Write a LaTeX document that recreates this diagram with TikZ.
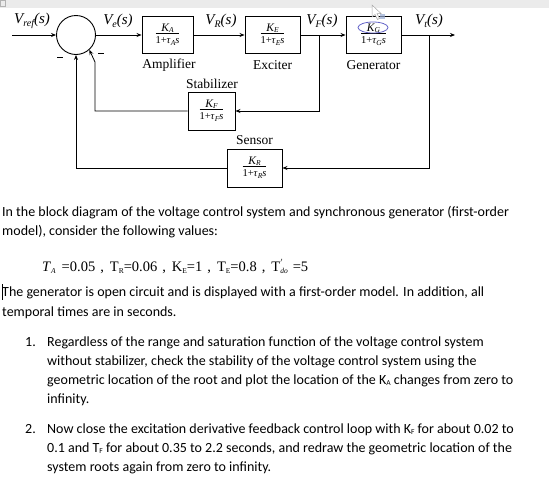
\documentclass[tikz,border=0pt]{standalone}
\usepackage{fontspec}
\setmainfont{Liberation Serif}
\newfontfamily\bodyfont{Carlito}
\usetikzlibrary{arrows.meta}
\newcommand\mysb[2]{\raisebox{-#2}{\fontsize{7.5}{7.5}\selectfont #1}}
\newcommand\vsb[1]{\raisebox{-2.5pt}{\fontsize{10}{10}\selectfont\itshape #1}}
\newcommand\fsb[1]{\raisebox{-1.5pt}{\fontsize{7.5}{7.5}\selectfont\itshape #1}}
\newcommand\tfrac[2]{{\fontsize{11.5}{11.5}\selectfont\itshape K\fsb{#1}}\\[-1.5pt]\hline
  \rule{0pt}{10pt}{\fontsize{10.5}{10.5}\selectfont 1+\textit{τ}\fsb{#2}\textit{s}}}
\newcommand\cma{\hspace{5pt},\hspace{6pt}}
\begin{document}
\begin{tikzpicture}[x=1pt,y=-1pt,
  blk/.style={draw,line width=0.9pt,minimum width=53pt,minimum height=37pt,inner sep=0pt,
     align=center},
  lbl/.style={font=\fontsize{13.5}{13.5}\selectfont,inner sep=0pt},
  sig/.style={font=\fontsize{15}{15}\selectfont\itshape,inner sep=0pt},
  wire/.style={line width=0.8pt},
  arr/.style={wire,-{Stealth[length=5pt,width=4pt]}},
  txt/.style={anchor=base west,inner sep=0pt,font=\bodyfont\fontsize{14}{14}\selectfont},
  frm/.style={anchor=base west,inner sep=0pt,font=\fontsize{14.5}{14.5}\selectfont}]
\useasboundingbox (0,0) rectangle (549,480);
\fill[gray!16] (0,0) rectangle (549,8);
\draw[gray!60,line width=0.5pt] (0.5,0.5) rectangle (5,6);
% blocks
\node[draw,circle,line width=0.9pt,minimum size=39pt,inner sep=0pt] (sum) at (76,35) {};
\node[blk,minimum width=51pt] (amp) at (167.5,35) {\begin{tabular}{@{}c@{}}\tfrac{A}{A}\end{tabular}};
\node[blk,minimum width=55pt] (exc) at (272.5,35) {\begin{tabular}{@{}c@{}}\tfrac{E}{E}\end{tabular}};
\node[blk,minimum width=55pt] (gen) at (373.5,35) {\begin{tabular}{@{}c@{}}\tfrac{G}{G}\end{tabular}};
\node[blk,minimum width=47pt,minimum height=38pt] (stab) at (211.5,111) {\begin{tabular}{@{}c@{}}\tfrac{F}{F}\end{tabular}};
\node[blk,minimum width=55pt,minimum height=38pt] (sens) at (254.5,168) {\begin{tabular}{@{}c@{}}\tfrac{R}{R}\end{tabular}};
\draw[color={rgb,255:red,100;green,100;blue,200},line width=0.8pt] (373,27.5) ellipse (15 and 5.5);
% cursor
\draw[gray!70,fill=white,line width=0.5pt] (372,5) -- (372,17) -- (375,14.5) -- (377.5,19.5) -- (379.5,18.5) -- (377,13.5) -- (381,13.5) -- cycle;
\fill[color={rgb,255:red,150;green,170;blue,210},opacity=0.7] (380,14) rectangle (385,19);
% labels
\node[lbl] at (169,65) {Amplifier};
\node[lbl] at (272.5,65) {Exciter};
\node[lbl] at (373.5,65) {Generator};
\node[lbl] at (212,84) {Stabilizer};
\node[lbl] at (254.5,140) {Sensor};
\node[sig] at (32,21) {V\vsb{ref}(s)};
\node[sig] at (118,21) {V\vsb{e}(s)};
\node[sig] at (221,21) {V\vsb{R}(s)};
\node[sig] at (322,21) {V\vsb{F}(s)};
\node[sig] at (429,21) {V\vsb{t}(s)};
% coordinates
\coordinate (in) at (12,35);
\coordinate (out) at (455,35);
\coordinate (bF) at (319,35);
\coordinate (bT) at (429,35);
\coordinate (s1) at (319,111);
\coordinate (s2) at (429,168);
\coordinate (s3) at (95,111);
\coordinate (s4) at (95,62);
\coordinate (s5) at (76,168);
% connectors
\draw[arr] (in) -- (sum.west);
\draw[arr] (sum.east) -- (amp.west);
\draw[arr] (amp.east) -- (exc.west);
\draw[arr] (exc.east) -- (gen.west);
\draw[arr] (gen.east) -- (out);
\draw[arr] (bF) -- (s1) -- (stab.east);
\draw[arr] (stab.west) -- (s3) -- (s4) -- (sum.-48);
\draw[arr] (bT) -- (s2) -- (sens.east);
\draw[arr] (sens.west) -- (s5) -- (sum.south);
\draw[wire] (57,57) -- (63,57);
\draw[wire] (98,53) -- (104,53);
% text
\node[txt] (t1) at (2,216) {In the block diagram of the voltage control system and synchronous generator (first-order};
\node[txt] (t2) at (2,235) {model), consider the following values:};
\node[frm] (f) at (42,271) {\textit{T}\mysb{\textit{A}}{2pt}\hspace{6pt}=0.05\cma T\mysb{R}{2pt}=0.06\cma K\mysb{E}{2pt}=1\cma T\mysb{E}{2pt}=0.8\cma T\rlap{\raisebox{6pt}{\fontsize{8}{8}\selectfont$'$}}\mysb{\textit{do}}{2pt}\hspace{5pt}=5};
\draw[line width=0.8pt] (2.5,284) -- (2.5,300);
\node[txt] (t3) at (2,296) {The generator is open circuit and is displayed with a first-order model. In addition, all};
\node[txt] (t4) at (2,316) {temporal times are in seconds.};
\node[txt] (n1) at (25,346) {1.};
\node[txt] (a1) at (47,346) {Regardless of the range and saturation function of the voltage control system};
\node[txt] (a2) at (47,365) {without stabilizer, check the stability of the voltage control system using the};
\node[txt] (a3) at (47,384) {geometric location of the root and plot the location of the K\mysb{A}{1.5pt} changes from zero to};
\node[txt] (a4) at (47,403) {infinity.};
\node[txt] (n2) at (25,433) {2.};
\node[txt] (b1) at (47,433) {Now close the excitation derivative feedback control loop with K\mysb{F}{1.5pt} for about 0.02 to};
\node[txt] (b2) at (47,452) {0.1 and T\mysb{F}{1.5pt} for about 0.35 to 2.2 seconds, and redraw the geometric location of the};
\node[txt] (b3) at (47,471) {system roots again from zero to infinity.};
\end{tikzpicture}
\end{document}
